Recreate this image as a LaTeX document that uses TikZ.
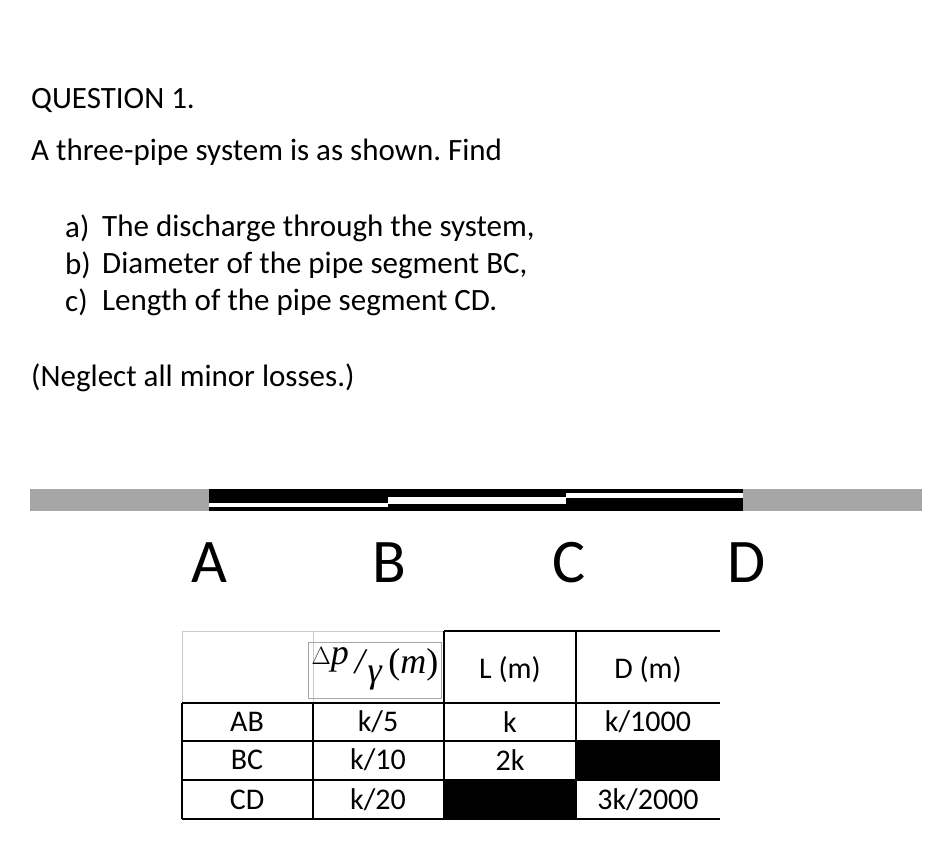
\documentclass[tikz,border=0pt]{standalone}
\usepackage{fontspec}
\setmainfont{Carlito}
\newfontfamily\mathf{Liberation Serif}
\frenchspacing
\begin{document}
\begin{tikzpicture}[x=1pt,y=-1pt,
  txt/.style={anchor=west,inner sep=0pt,font=\fontsize{31}{36}\selectfont},
  cell/.style={inner sep=0pt,font=\fontsize{30}{34}\selectfont},
  big/.style={inner sep=0pt,font=\fontsize{62}{70}\selectfont}]
\useasboundingbox (0,0) rectangle (946,846);
\node[txt] (q) at (31,100) {QUESTION 1.};
\node[txt] (s) at (31,152) {A three-pipe system is as shown. Find};
\node[txt] (al) at (65,228) {a)};
\node[txt] (a) at (102,228) {The discharge through the system,};
\node[txt] (bl) at (65,265) {b)};
\node[txt] (b) at (102,265) {Diameter of the pipe segment BC,};
\node[txt] (cl) at (65,302) {c)};
\node[txt] (c) at (102,302) {Length of the pipe segment CD.};
\node[txt] (n) at (31,378) {(Neglect all minor losses.)};
% pipes
\fill[gray!70] (30,489) rectangle (209,511);
\fill[gray!70] (743,489) rectangle (922,511);
\fill[black] (209,489) rectangle (388,511);
\fill[white] (209,503) rectangle (388,507);
\fill[black] (388,489) rectangle (566,511);
\fill[white] (388,497) rectangle (566,504);
\fill[black] (566,489) rectangle (743,511);
\fill[white] (566,493) rectangle (743,498);
\node[big] (A) at (209,563) {A};
\node[big] (B) at (389,563) {B};
\node[big] (C) at (569,563) {C};
\node[big] (D) at (747,563) {D};
% table
\fill (576,741) rectangle (720,780);
\fill (444,780) rectangle (576,819);
\draw[gray!40,line width=1pt] (182,703) -- (182,631) -- (444,631);
\draw[gray!40,line width=1pt] (313,631) -- (313,703);
\draw[gray!70,line width=0.8pt] (308,642) rectangle (441,698);
\draw[line width=1.2pt] (444,631) -- (720,631);
\draw[line width=1.2pt] (444,631) -- (444,819);
\draw[line width=1.2pt] (576,631) -- (576,819);
\draw[line width=1.2pt] (182,703) -- (182,819);
\draw[line width=1.2pt] (313,703) -- (313,819);
\foreach \yy in {703,741,780,819} \draw[line width=1.2pt] (182,\yy) -- (720,\yy);
\node[cell] (h1) at (375,669) {\mathf\fontsize{36}{40}\selectfont\raisebox{9pt}{$\Delta$\textit{p}}\,\textit{/}\raisebox{-9pt}{\textit{γ}}\,(\textit{m})};
\node[cell] (h2) at (510,670) {L (m)};
\node[cell] (h3) at (648,670) {D (m)};
\node[cell] (r1) at (247,722) {AB};
\node[cell] (r2) at (247,760) {BC};
\node[cell] (r3) at (247,800) {CD};
\node[cell] (p1) at (378,722) {k/5};
\node[cell] (p2) at (378,760) {k/10};
\node[cell] (p3) at (378,800) {k/20};
\node[cell] (l1) at (510,722) {k};
\node[cell] (l2) at (510,760) {2k};
\node[cell] (d1) at (648,722) {k/1000};
\node[cell] (d3) at (648,800) {3k/2000};
\end{tikzpicture}
\end{document}
